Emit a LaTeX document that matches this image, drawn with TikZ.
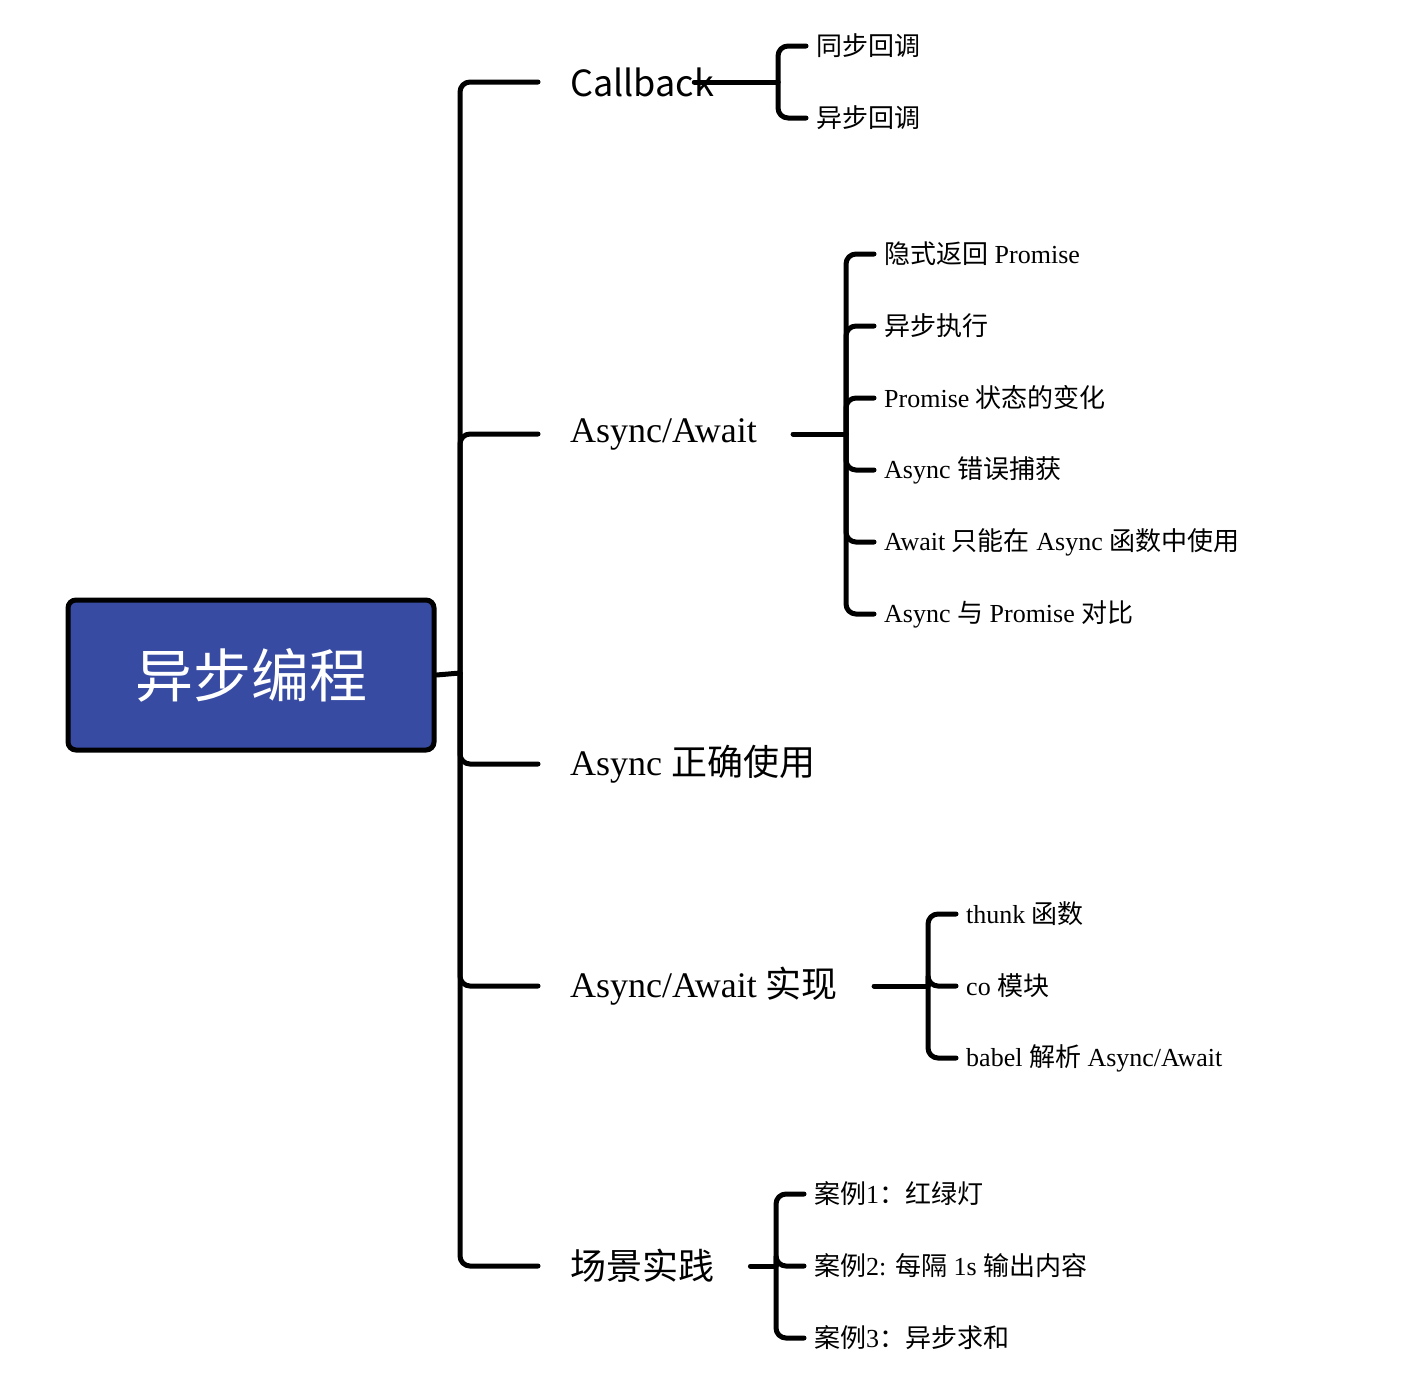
\documentclass[tikz,border=0pt]{standalone}
\usepackage{fontspec}
\setmainfont{Liberation Serif}
\newfontfamily\cjk{Noto Sans CJK SC}
\definecolor{rootblue}{HTML}{384BA3}
\begin{document}
\begin{tikzpicture}[x=1pt,y=-1pt,
  line/.style={line width=5pt,rounded corners=10pt,line cap=round},
  l1/.style={anchor=west,inner sep=0pt,font=\fontsize{36}{40}\selectfont},
  l2/.style={anchor=west,inner sep=0pt,font=\fontsize{26}{30}\selectfont}]
\useasboundingbox (0,0) rectangle (1416,1392);
\node[draw=black,line width=5pt,fill=rootblue,rounded corners=8pt,minimum width=366pt,minimum height=150pt,text=white,font=\cjk\fontsize{58}{62}\selectfont] (root) at (251,675) {异步编程};
\coordinate (trunk) at (460,673);
\node[l1] (cb) at (570,82) {\cjk Callback};
\node[l1] (aa) at (570,434) {Async/Await};
\node[l1] (use) at (570,764) {Async {\cjk 正确使用}};
\node[l1] (impl) at (570,986) {Async/Await {\cjk 实现}};
\node[l1] (sc) at (570,1266) {\cjk 场景实践};
\draw[line] (root.east) -- (trunk);
\foreach \n in {cb,aa,use,impl,sc}{
  \draw[line] (trunk) |- ([xshift=-32pt]\n.west);
}
% Callback
\node[l2] (cb1) at (816,46) {\cjk 同步回调};
\node[l2] (cb2) at (816,118) {\cjk 异步回调};
\coordinate (cbj) at (778,82);
\draw[line] ([xshift=-20pt]cb.east) -- (cbj);
\foreach \n in {cb1,cb2}{\draw[line] (cbj) |- ([xshift=-10pt]\n.west);}
% Async/Await
\node[l2] (a1) at (884,254) {{\cjk 隐式返回} Promise};
\node[l2] (a2) at (884,326) {\cjk 异步执行};
\node[l2] (a3) at (884,398) {Promise {\cjk 状态的变化}};
\node[l2] (a4) at (884,470) {Async {\cjk 错误捕获}};
\node[l2] (a5) at (884,542) {Await {\cjk 只能在} Async {\cjk 函数中使用}};
\node[l2] (a6) at (884,614) {Async {\cjk 与} Promise {\cjk 对比}};
\coordinate (aaj) at (846,434);
\draw[line] ([xshift=36pt]aa.east) -- (aaj);
\foreach \n in {a1,a2,a3,a4,a5,a6}{\draw[line] (aaj) |- ([xshift=-10pt]\n.west);}
% impl
\node[l2] (i1) at (966,914) {thunk {\cjk 函数}};
\node[l2] (i2) at (966,986) {co {\cjk 模块}};
\node[l2] (i3) at (966,1058) {babel {\cjk 解析} Async/Await};
\coordinate (ij) at (928,986);
\draw[line] ([xshift=36pt]impl.east) -- (ij);
\foreach \n in {i1,i2,i3}{\draw[line] (ij) |- ([xshift=-10pt]\n.west);}
% scenes
\node[l2] (s1) at (814,1194) {{\cjk 案例}1{\cjk ：红绿灯}};
\node[l2] (s2) at (814,1266) {{\cjk 案例}2: {\cjk 每隔} 1s {\cjk 输出内容}};
\node[l2] (s3) at (814,1338) {{\cjk 案例}3{\cjk ：异步求和}};
\coordinate (sj) at (776,1266);
\draw[line] ([xshift=36pt]sc.east) -- (sj);
\foreach \n in {s1,s2,s3}{\draw[line] (sj) |- ([xshift=-10pt]\n.west);}
\end{tikzpicture}
\end{document}
